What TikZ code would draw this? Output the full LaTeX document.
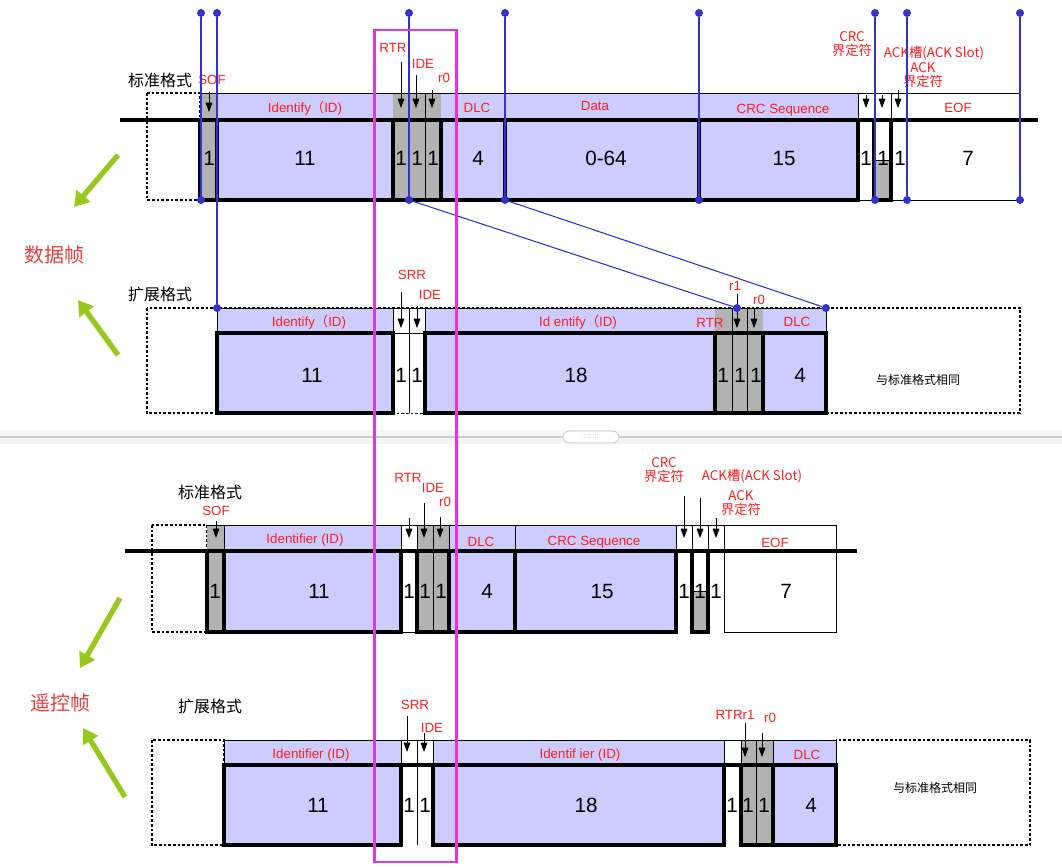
\documentclass[tikz,border=0pt]{standalone}
\usepackage{fontspec}
\setmainfont{Liberation Sans}
\newfontfamily\cjk{Noto Sans CJK SC}
\usetikzlibrary{arrows.meta}
\definecolor{lav}{RGB}{204,204,255}
\definecolor{gry}{RGB}{178,178,178}
\definecolor{blu}{RGB}{51,51,204}
\definecolor{pnk}{RGB}{230,50,230}
\definecolor{rtxt}{RGB}{255,30,30}
\definecolor{grn}{RGB}{150,200,30}
\definecolor{ttl}{RGB}{235,60,60}
\newcommand{\fwp}{{\cjk （}}
\begin{document}
\begin{tikzpicture}[x=0.75pt,y=-0.75pt,
  lbl/.style={text=rtxt,font=\fontsize{10}{11}\selectfont,inner sep=0pt},
  clbl/.style={text=rtxt,font=\cjk\fontsize{10}{11}\selectfont,inner sep=0pt,align=center},
  num/.style={font=\fontsize{15.5}{16}\selectfont,inner sep=0pt},
  cn/.style={font=\cjk\fontsize{12}{13}\selectfont,inner sep=0pt},
  cns/.style={font=\cjk\fontsize{9}{10}\selectfont,inner sep=0pt},
  ttl/.style={text=ttl,font=\cjk\fontsize{15}{16}\selectfont,inner sep=0pt},
  thk/.style={line width=3pt},
  thn/.style={line width=0.5pt},
  dsh/.style={line width=2pt,dash pattern=on 2pt off 1.5pt},
  arr/.style={-{Triangle[length=7pt,width=5pt]},line width=0.6pt},
  bl/.style={blu,line width=0.8pt},
  dot/.style={circle,fill=blu,inner sep=0pt,minimum size=6pt},
  garr/.style={grn,line width=4pt,-{Triangle[length=11pt,width=13pt]}}]
\useasboundingbox (0,0) rectangle (1062,867);
% ================= Frame 1 =================
\draw[dsh] (147,93) rectangle (200,200);
\fill[lav] (217,93) rectangle (858,200);
\fill[gry] (200,93) rectangle (217,200);
\fill[gry] (393,93) rectangle (441,200);
\fill[gry] (874,160) rectangle (891,200);
\draw[thn] (200,93) -- (1020,93);
\draw[thn] (200,200) -- (1020,200) -- (1020,93);
\foreach \x in {409,425,505,699,858,874,891,907} \draw[thn] (\x,93) -- (\x,120);
\foreach \x in {409,425,891,907} \draw[thn] (\x,120) -- (\x,200);
\draw[thn] (874,160) -- (891,160);
\foreach \a/\b in {200/217,217/393,393/441,441/505,505/699,699/858,874/891}
  \draw[thk] (\a,120) rectangle (\b,200);
\draw[thk] (120,120) -- (1038,120);
\node[cn] (t1) at (160,80) {标准格式};
\node[lbl] (sof1) at (212,80) {SOF};
\node[lbl] (rtr1) at (393,48) {RTR};
\node[lbl] (ide1) at (423,64) {IDE};
\node[lbl] (r01) at (444,78) {r0};
\node[clbl] (crc1) at (852,44) {CRC\\界定符};
\node[clbl] (acks1) at (934,53) {ACK槽(ACK Slot)};
\node[clbl] (ackd1) at (923,75) {ACK\\界定符};
\coordinate (a1s) at (209,92); \coordinate (a1e) at (209,112);
\draw[arr] (a1s) -- (a1e);
\foreach \x/\y in {401/62,416/75,432/90,866/95,882/95,898/90} {\draw[arr] (\x,\y) -- (\x,108);}
\node[lbl] (id1) at (305,108) {Identify\fwp ID)};
\node[lbl] (dlc1) at (477,108) {DLC};
\node[lbl] (dat1) at (595,106) {Data};
\node[lbl] (crcs1) at (783,110) {CRC Sequence};
\node[lbl] (eof1) at (958,108) {EOF};
\foreach \x/\t [count=\i] in {209/1,305/11,401/1,417/1,433/1,478/4,606/0-64,784/15,866/1,883/1,900/1,968/7}
  \node[num] (n1\i) at (\x,158) {\t};
% ================= Frame 2 =================
\draw[dsh] (147,308) rectangle (1020,413);
\fill[lav] (217,308) rectangle (826,413);
\fill[white] (393,308) rectangle (425,413);
\fill[gry] (715,308) rectangle (763,413);
\fill[white] (828,309) rectangle (1018,411);
\draw[thn] (217,308) rectangle (826,333);
\foreach \x in {393,409,425} \draw[thn] (\x,308) -- (\x,413);
\foreach \x in {732,747} \draw[thn] (\x,308) -- (\x,413);
\foreach \a/\b in {217/393,425/715,715/763,763/826} \draw[thk] (\a,333) rectangle (\b,413);
\node[cn] (t2) at (160,294) {扩展格式};
\node[lbl] (srr2) at (412,275) {SRR};
\node[lbl] (ide2) at (430,295) {IDE};
\node[lbl] (r12) at (735,286) {r1};
\node[lbl] (r02) at (759,300) {r0};
\node[lbl] (rtr2) at (710,323) {RTR};
\node[lbl] (dlc2) at (797,322) {DLC};
\node[lbl] (id2a) at (309,322) {Identify\fwp ID)};
\node[lbl] (id2b) at (578,322) {Id entify\fwp ID)};
\foreach \x/\y in {401/292,417/306,737/294,754/308} {\draw[arr] (\x,\y) -- (\x,328);}
\foreach \x/\t [count=\i] in {312/11,401/1,417/1,576/18,723/1,740/1,756/1,800/4}
  \node[num] (n2\i) at (\x,375) {\t};
\node[cns] (same2) at (918,380) {与标准格式相同};
% blue guide lines
\foreach \x [count=\i] in {201,217,409,505,699,875,907,1020} \node[dot] (top\i) at (\x,13) {};
\foreach \x [count=\i] in {201,409,505,699,875,907,1020} \node[dot] (bot\i) at (\x,200) {};
\node[dot] (e1) at (217,308) {};
\node[dot] (e2) at (737,308) {};
\node[dot] (e3) at (826,308) {};
\draw[bl] (top1) -- (bot1);
\draw[bl] (top2) -- (e1);
\draw[bl] (top3) -- (bot2);
\draw[bl] (top4) -- (bot3);
\draw[bl] (top5) -- (bot4);
\draw[bl] (top6) -- (bot5);
\draw[bl] (top7) -- (bot6);
\draw[bl] (top8) -- (bot7);
\draw[bl] (bot2) -- (e2);
\draw[bl] (bot3) -- (e3);
% separator
\fill[gray!8] (0,430) rectangle (1062,444);
\draw[gray!40,line width=0.8pt] (0,437) -- (1062,437);
\node[draw=gray!50,fill=white,rounded corners=5pt,minimum width=42pt,minimum height=9pt,inner sep=0pt] (hdl) at (591,437) {};
\node[text=gray!60,font=\fontsize{5}{5}\selectfont] (hdlt) at (591,437) {::::::::::};
% ================= Frame 3 =================
\draw[dsh] (152,525) rectangle (207,632);
\fill[lav] (224,525) rectangle (401,632);
\fill[lav] (449,525) rectangle (676,632);
\fill[gry] (207,525) rectangle (224,632);
\fill[gry] (417,525) rectangle (449,632);
\fill[gry] (692,591) rectangle (708,632);
\draw[thn] (207,525) -- (836,525) -- (836,632) -- (724,632);
\foreach \x in {224,401,417,433,449,515,676,692,708,724} \draw[thn] (\x,525) -- (\x,551);
\foreach \x in {401,417,433,708,724} \draw[thn] (\x,551) -- (\x,632);
\draw[thn] (401,632) -- (417,632);
\draw[thn] (692,591) -- (708,591);
\foreach \a/\b in {207/224,224/401,417/449,449/515,515/676,692/708} \draw[thk] (\a,551) rectangle (\b,632);
\draw[thk] (125,551) -- (857,551);
\node[cn] (t3) at (210,492) {标准格式};
\node[lbl] (sof3) at (216,511) {SOF};
\node[lbl] (rtr3) at (408,478) {RTR};
\node[lbl] (ide3) at (433,488) {IDE};
\node[lbl] (r03) at (445,502) {r0};
\node[clbl] (crc3) at (664,470) {CRC\\界定符};
\node[clbl] (acks3) at (752,476) {ACK槽(ACK Slot)};
\node[clbl] (ackd3) at (741,503) {ACK\\界定符};
\draw[arr] (216,521) -- (216,538);
\draw[arr] (409,518) -- (409,538);
\draw[arr] (424,503) -- (424,538);
\draw[arr] (440,517) -- (440,538);
\draw[arr] (684,496) -- (684,538);
\draw[arr] (700,498) -- (700,538);
\draw[arr] (716,518) -- (716,538);
\node[lbl] (id3) at (305,540) {Identifier (ID)};
\node[lbl] (dlc3) at (481,542) {DLC};
\node[lbl] (crcs3) at (594,542) {CRC Sequence};
\node[lbl] (eof3) at (775,543) {EOF};
\foreach \x/\t [count=\i] in {215/1,319/11,409/1,425/1,441/1,487/4,602/15,684/1,700/1,716/1,786/7}
  \node[num] (n3\i) at (\x,591) {\t};
% ================= Frame 4 =================
\draw[dsh] (152,740) rectangle (224,845);
\draw[dsh] (836,740) rectangle (1030,845);
\fill[lav] (224,740) rectangle (836,845);
\fill[white] (401,740) rectangle (433,845);
\fill[white] (724,740) rectangle (741,845);
\fill[gry] (741,740) rectangle (773,845);
\draw[thn] (224,740) rectangle (836,765);
\foreach \x in {401,417,433,724,741,756,773} \draw[thn] (\x,740) -- (\x,845);
\foreach \a/\b in {224/401,433/724,741/773,773/836} \draw[thk] (\a,765) rectangle (\b,845);
\draw[thk] (401,765) -- (433,765);
\draw[thk] (724,765) -- (741,765);
\node[cn] (t4) at (210,706) {扩展格式};
\node[lbl] (srr4) at (415,705) {SRR};
\node[lbl] (ide4) at (432,728) {IDE};
\node[lbl] (rtr4) at (735,715) {RTRr1};
\node[lbl] (r04) at (770,718) {r0};
\draw[arr] (407,716) -- (407,752);
\draw[arr] (424,733) -- (424,752);
\draw[arr] (745,723) -- (745,757);
\draw[arr] (762,733) -- (762,757);
\node[lbl] (id4a) at (311,755) {Identifier (ID)};
\node[lbl] (id4b) at (580,755) {Identif ier (ID)};
\node[lbl] (dlc4) at (807,755) {DLC};
\foreach \x/\t [count=\i] in {318/11,409/1,425/1,586/18,732/1,748/1,764/1,811/4}
  \node[num] (n4\i) at (\x,805) {\t};
\node[cns] (same4) at (935,788) {与标准格式相同};
% pink highlight
\node[draw=pnk,line width=2.2pt,minimum width=62pt,minimum height=624pt,inner sep=0pt] (pk) at (415.5,446) {};
% titles and green arrows
\node[ttl] (df) at (54,255) {数据帧};
\node[ttl] (rf) at (60,703) {遥控帧};
\coordinate (g1s) at (118,155); \coordinate (g1e) at (74,207);
\coordinate (g2s) at (118,355); \coordinate (g2e) at (78,300);
\coordinate (g3s) at (120,598); \coordinate (g3e) at (80,668);
\coordinate (g4s) at (125,797); \coordinate (g4e) at (83,728);
\draw[garr] (g1s) -- (g1e);
\draw[garr] (g2s) -- (g2e);
\draw[garr] (g3s) -- (g3e);
\draw[garr] (g4s) -- (g4e);
\end{tikzpicture}
\end{document}
